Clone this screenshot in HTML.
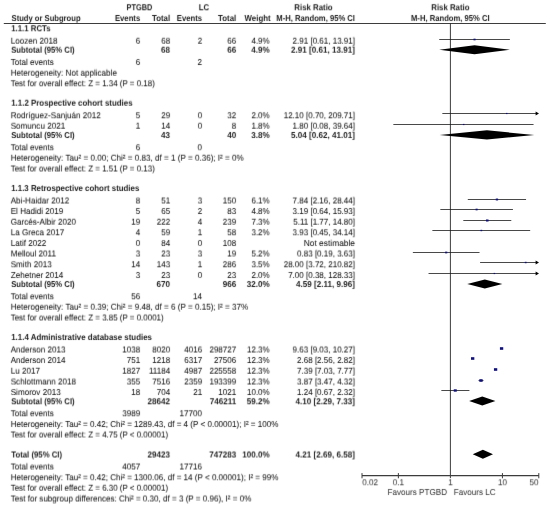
<!DOCTYPE html>
<html><head><meta charset="utf-8"><title>Forest plot</title>
<style>
html,body{margin:0;padding:0;background:#fff;}
svg{display:block;font-family:"Liberation Sans",Arial,sans-serif;font-size:8.6px;text-rendering:geometricPrecision;}
text{stroke:#000;stroke-width:0.05px;fill:#161616;}
.b{font-weight:bold;stroke-width:0;font-size:8.6px;fill:#1e1e1e;}
</style></head><body>
<svg width="550" height="509" viewBox="0 0 550 509">
<rect width="550" height="509" fill="#fff"/>
<line x1="3.8" y1="23.5" x2="545.8" y2="23.5" stroke="#1a1a1a" stroke-width="0.85"/>
<line x1="450.4" y1="23.5" x2="450.4" y2="478.1" stroke="#1a1a1a" stroke-width="0.85"/>
<line x1="362.00" y1="475.6" x2="538.80" y2="475.6" stroke="#3c3c3c" stroke-width="1.2"/>
<line x1="362.00" y1="473.1" x2="362.00" y2="478.3" stroke="#3c3c3c" stroke-width="1.0"/>
<line x1="398.37" y1="473.1" x2="398.37" y2="478.3" stroke="#3c3c3c" stroke-width="1.0"/>
<line x1="502.43" y1="473.1" x2="502.43" y2="478.3" stroke="#3c3c3c" stroke-width="1.0"/>
<line x1="538.80" y1="473.1" x2="538.80" y2="478.3" stroke="#3c3c3c" stroke-width="1.0"/>
<line x1="439.23" y1="39.50" x2="509.89" y2="39.50" stroke="#1a1a1a" stroke-width="0.8"/>
<rect x="473.49" y="38.67" width="2.09" height="1.66" fill="#10107c"/>
<polygon points="439.23,49.74 474.54,45.19 509.89,49.74 474.54,54.29" fill="#000"/>
<line x1="442.34" y1="113.50" x2="537.00" y2="113.50" stroke="#1a1a1a" stroke-width="0.8"/>
<polygon points="539.00,113.50 535.60,111.40 535.60,115.60" fill="#000"/>
<rect x="506.00" y="112.91" width="1.47" height="1.17" fill="#10107c"/>
<line x1="393.33" y1="124.50" x2="533.55" y2="124.50" stroke="#1a1a1a" stroke-width="0.8"/>
<rect x="462.94" y="123.91" width="1.47" height="1.17" fill="#10107c"/>
<polygon points="439.60,134.91 486.95,130.36 534.32,134.91 486.95,139.46" fill="#000"/>
<line x1="467.80" y1="199.50" x2="526.05" y2="199.50" stroke="#1a1a1a" stroke-width="0.8"/>
<rect x="495.77" y="198.57" width="2.33" height="1.86" fill="#10107c"/>
<line x1="440.32" y1="209.50" x2="512.95" y2="209.50" stroke="#1a1a1a" stroke-width="0.8"/>
<rect x="475.58" y="208.68" width="2.07" height="1.65" fill="#10107c"/>
<line x1="463.30" y1="220.50" x2="511.29" y2="220.50" stroke="#1a1a1a" stroke-width="0.8"/>
<rect x="485.98" y="219.48" width="2.55" height="2.03" fill="#10107c"/>
<line x1="432.36" y1="230.50" x2="530.18" y2="230.50" stroke="#1a1a1a" stroke-width="0.8"/>
<rect x="480.48" y="229.83" width="1.69" height="1.35" fill="#10107c"/>
<line x1="412.87" y1="252.50" x2="479.53" y2="252.50" stroke="#1a1a1a" stroke-width="0.8"/>
<rect x="445.11" y="251.64" width="2.15" height="1.71" fill="#10107c"/>
<line x1="480.09" y1="262.50" x2="537.00" y2="262.50" stroke="#1a1a1a" stroke-width="0.8"/>
<polygon points="539.00,262.50 535.60,260.40 535.60,264.60" fill="#000"/>
<rect x="524.81" y="261.80" width="1.77" height="1.41" fill="#10107c"/>
<line x1="428.54" y1="273.50" x2="537.00" y2="273.50" stroke="#1a1a1a" stroke-width="0.8"/>
<polygon points="539.00,273.50 535.60,271.40 535.60,275.60" fill="#000"/>
<rect x="493.63" y="272.91" width="1.47" height="1.17" fill="#10107c"/>
<polygon points="467.27,283.96 484.83,279.41 502.34,283.96 484.83,288.51" fill="#000"/>
<line x1="500.12" y1="348.50" x2="503.03" y2="348.50" stroke="#1a1a1a" stroke-width="0.8"/>
<rect x="499.92" y="347.18" width="3.31" height="2.64" fill="#10107c"/>
<line x1="471.64" y1="358.50" x2="473.83" y2="358.50" stroke="#1a1a1a" stroke-width="0.8"/>
<rect x="471.02" y="357.18" width="3.31" height="2.64" fill="#10107c"/>
<line x1="494.47" y1="369.50" x2="496.73" y2="369.50" stroke="#1a1a1a" stroke-width="0.8"/>
<rect x="493.94" y="368.18" width="3.31" height="2.64" fill="#10107c"/>
<line x1="478.51" y1="380.50" x2="483.46" y2="380.50" stroke="#1a1a1a" stroke-width="0.8"/>
<rect x="479.32" y="379.18" width="3.31" height="2.64" fill="#10107c"/>
<line x1="441.35" y1="390.50" x2="469.42" y2="390.50" stroke="#1a1a1a" stroke-width="0.8"/>
<rect x="453.77" y="389.31" width="2.99" height="2.38" fill="#10107c"/>
<polygon points="469.12,401.07 482.28,396.52 495.41,401.07 482.28,405.62" fill="#000"/>
<polygon points="472.76,454.31 482.88,449.76 492.97,454.31 482.88,458.86" fill="#000"/>
<defs><filter id="f0" filterUnits="userSpaceOnUse" x="0" y="0" width="550" height="509" color-interpolation-filters="sRGB"><feConvolveMatrix order="3" kernelMatrix="0.0049 0.0602 0.0049 0.0602 0.7396 0.0602 0.0049 0.0602 0.0049" edgeMode="none" preserveAlpha="false"/></filter><filter id="f1" filterUnits="userSpaceOnUse" x="0" y="0" width="550" height="509" color-interpolation-filters="sRGB"><feConvolveMatrix order="3" kernelMatrix="0.0037 0.0460 0.0037 0.0472 0.5799 0.0472 0.0191 0.2341 0.0191" edgeMode="none" preserveAlpha="false"/></filter><filter id="f2" filterUnits="userSpaceOnUse" x="0" y="0" width="550" height="509" color-interpolation-filters="sRGB"><feConvolveMatrix order="3" kernelMatrix="0.0025 0.0312 0.0025 0.0337 0.4144 0.0337 0.0337 0.4144 0.0337" edgeMode="none" preserveAlpha="false"/></filter><filter id="f3" filterUnits="userSpaceOnUse" x="0" y="0" width="550" height="509" color-interpolation-filters="sRGB"><feConvolveMatrix order="3" kernelMatrix="0.0013 0.0159 0.0013 0.0198 0.2428 0.0198 0.0489 0.6013 0.0489" edgeMode="none" preserveAlpha="false"/></filter></defs>
<g filter="url(#f0)">
<text transform="translate(11.55 21) scale(0.9116 1)" class="b" textLength="75.69" lengthAdjust="spacingAndGlyphs">Study or Subgroup</text>
<text transform="translate(140.20 21) scale(0.9116 1)" text-anchor="end" class="b" textLength="27.75" lengthAdjust="spacingAndGlyphs">Events</text>
<text transform="translate(170.10 21) scale(0.9116 1)" text-anchor="end" class="b">Total</text>
<text transform="translate(202.10 21) scale(0.9116 1)" text-anchor="end" class="b" textLength="27.75" lengthAdjust="spacingAndGlyphs">Events</text>
<text transform="translate(236.20 21) scale(0.9116 1)" text-anchor="end" class="b">Total</text>
<text transform="translate(270.60 21) scale(0.9116 1)" text-anchor="end" class="b" textLength="28.52" lengthAdjust="spacingAndGlyphs">Weight</text>
<text transform="translate(355.00 21) scale(0.9116 1)" text-anchor="end" class="b" textLength="86.33" lengthAdjust="spacingAndGlyphs">M-H, Random, 95% CI</text>
<text transform="translate(450.30 21) scale(0.9116 1)" text-anchor="middle" class="b" textLength="86.33" lengthAdjust="spacingAndGlyphs">M-H, Random, 95% CI</text>
<text transform="translate(10.70 65) scale(0.9419 1)">Total events</text>
<text transform="translate(140.20 65) scale(0.9419 1)" text-anchor="end">6</text>
<text transform="translate(202.10 65) scale(0.9419 1)" text-anchor="end">2</text>
<text transform="translate(11.20 138) scale(0.9116 1)" class="b" textLength="69.55" lengthAdjust="spacingAndGlyphs">Subtotal (95% CI)</text>
<text transform="translate(170.10 138) scale(0.9419 1)" text-anchor="end" class="b">43</text>
<text transform="translate(236.20 138) scale(0.9419 1)" text-anchor="end" class="b">40</text>
<text transform="translate(269.70 138) scale(0.9419 1)" text-anchor="end" class="b">3.8%</text>
<text transform="translate(355.00 138) scale(0.9419 1)" text-anchor="end" class="b">5.04 [0.62, 41.01]</text>
<text transform="translate(11.20 191) scale(0.9116 1)" class="b" textLength="140.52" lengthAdjust="spacingAndGlyphs">1.1.3 Retrospective cohort studies</text>
<text transform="translate(10.70 214) scale(0.9419 1)">El Hadidi 2019</text>
<text transform="translate(140.20 214) scale(0.9326 1)" text-anchor="end">5</text>
<text transform="translate(170.10 214) scale(0.9326 1)" text-anchor="end">65</text>
<text transform="translate(202.10 214) scale(0.9326 1)" text-anchor="end">2</text>
<text transform="translate(236.20 214) scale(0.9326 1)" text-anchor="end">83</text>
<text transform="translate(269.70 214) scale(0.9326 1)" text-anchor="end">4.8%</text>
<text transform="translate(355.00 214) scale(0.9326 1)" text-anchor="end">3.19 [0.64, 15.93]</text>
<text transform="translate(10.70 246) scale(0.9419 1)">Latif 2022</text>
<text transform="translate(140.20 246) scale(0.9326 1)" text-anchor="end">0</text>
<text transform="translate(170.10 246) scale(0.9326 1)" text-anchor="end">84</text>
<text transform="translate(202.10 246) scale(0.9326 1)" text-anchor="end">0</text>
<text transform="translate(236.20 246) scale(0.9326 1)" text-anchor="end">108</text>
<text transform="translate(355.00 246) scale(0.9326 1)" text-anchor="end" textLength="55.01" lengthAdjust="spacingAndGlyphs">Not estimable</text>
<text transform="translate(10.70 278) scale(0.9419 1)">Zehetner 2014</text>
<text transform="translate(140.20 278) scale(0.9326 1)" text-anchor="end">3</text>
<text transform="translate(170.10 278) scale(0.9326 1)" text-anchor="end">23</text>
<text transform="translate(202.10 278) scale(0.9326 1)" text-anchor="end">0</text>
<text transform="translate(236.20 278) scale(0.9326 1)" text-anchor="end">23</text>
<text transform="translate(269.70 278) scale(0.9326 1)" text-anchor="end">2.0%</text>
<text transform="translate(355.00 278) scale(0.9326 1)" text-anchor="end">7.00 [0.38, 128.33]</text>
<text transform="translate(11.20 287) scale(0.9116 1)" class="b" textLength="69.55" lengthAdjust="spacingAndGlyphs">Subtotal (95% CI)</text>
<text transform="translate(170.10 287) scale(0.9419 1)" text-anchor="end" class="b">670</text>
<text transform="translate(236.20 287) scale(0.9419 1)" text-anchor="end" class="b">966</text>
<text transform="translate(269.70 287) scale(0.9419 1)" text-anchor="end" class="b">32.0%</text>
<text transform="translate(355.00 287) scale(0.9419 1)" text-anchor="end" class="b">4.59 [2.11, 9.96]</text>
<text transform="translate(11.20 340) scale(0.9116 1)" class="b" textLength="154.45" lengthAdjust="spacingAndGlyphs">1.1.4 Administrative database studies</text>
<text transform="translate(10.70 363) scale(0.9419 1)">Anderson 2014</text>
<text transform="translate(140.20 363) scale(0.9326 1)" text-anchor="end">751</text>
<text transform="translate(170.10 363) scale(0.9326 1)" text-anchor="end">1218</text>
<text transform="translate(202.10 363) scale(0.9326 1)" text-anchor="end">6317</text>
<text transform="translate(236.20 363) scale(0.9326 1)" text-anchor="end">27506</text>
<text transform="translate(269.70 363) scale(0.9326 1)" text-anchor="end">12.3%</text>
<text transform="translate(355.00 363) scale(0.9326 1)" text-anchor="end">2.68 [2.56, 2.82]</text>
<text transform="translate(10.70 395) scale(0.9419 1)">Simorov 2013</text>
<text transform="translate(140.20 395) scale(0.9326 1)" text-anchor="end">18</text>
<text transform="translate(170.10 395) scale(0.9326 1)" text-anchor="end">704</text>
<text transform="translate(202.10 395) scale(0.9326 1)" text-anchor="end">21</text>
<text transform="translate(236.20 395) scale(0.9326 1)" text-anchor="end">1021</text>
<text transform="translate(269.70 395) scale(0.9326 1)" text-anchor="end">10.0%</text>
<text transform="translate(355.00 395) scale(0.9326 1)" text-anchor="end">1.24 [0.67, 2.32]</text>
<text transform="translate(10.70 427) scale(0.9419 1)" textLength="284.21" lengthAdjust="spacingAndGlyphs">Heterogeneity: Tau² = 0.42; Chi² = 1289.43, df = 4 (P &lt; 0.00001); I² = 100%</text>
<text transform="translate(447.00 495) scale(0.9419 1)" text-anchor="end" style="fill:#3a3a3a;stroke:#3a3a3a">Favours PTGBD</text>
<text transform="translate(453.80 495) scale(0.9419 1)" style="fill:#3a3a3a;stroke:#3a3a3a">Favours LC</text>
</g>
<g filter="url(#f1)">
<text transform="translate(139.50 10) scale(0.9116 1)" text-anchor="middle" class="b" textLength="28.30" lengthAdjust="spacingAndGlyphs">PTGBD</text>
<text transform="translate(204.00 10) scale(0.9116 1)" text-anchor="middle" class="b">LC</text>
<text transform="translate(313.50 10) scale(0.9116 1)" text-anchor="middle" class="b">Risk Ratio</text>
<text transform="translate(450.40 10) scale(0.9116 1)" text-anchor="middle" class="b">Risk Ratio</text>
<text transform="translate(11.20 31) scale(0.9116 1)" class="b">1.1.1 RCTs</text>
<text transform="translate(10.70 86) scale(0.9244 1)">Test for overall effect: Z = 1.34 (P = 0.18)</text>
<text transform="translate(10.70 118) scale(0.9419 1)">Rodríguez-Sanjuán 2012</text>
<text transform="translate(140.20 118) scale(0.9326 1)" text-anchor="end">5</text>
<text transform="translate(170.10 118) scale(0.9326 1)" text-anchor="end">29</text>
<text transform="translate(202.10 118) scale(0.9326 1)" text-anchor="end">0</text>
<text transform="translate(236.20 118) scale(0.9326 1)" text-anchor="end">32</text>
<text transform="translate(269.70 118) scale(0.9326 1)" text-anchor="end">2.0%</text>
<text transform="translate(355.00 118) scale(0.9326 1)" text-anchor="end">12.10 [0.70, 209.71]</text>
<text transform="translate(10.70 150) scale(0.9419 1)">Total events</text>
<text transform="translate(140.20 150) scale(0.9419 1)" text-anchor="end">6</text>
<text transform="translate(202.10 150) scale(0.9419 1)" text-anchor="end">0</text>
<text transform="translate(10.70 235) scale(0.9419 1)">La Greca 2017</text>
<text transform="translate(140.20 235) scale(0.9326 1)" text-anchor="end">4</text>
<text transform="translate(170.10 235) scale(0.9326 1)" text-anchor="end">59</text>
<text transform="translate(202.10 235) scale(0.9326 1)" text-anchor="end">1</text>
<text transform="translate(236.20 235) scale(0.9326 1)" text-anchor="end">58</text>
<text transform="translate(269.70 235) scale(0.9326 1)" text-anchor="end">3.2%</text>
<text transform="translate(355.00 235) scale(0.9326 1)" text-anchor="end">3.93 [0.45, 34.14]</text>
<text transform="translate(10.70 267) scale(0.9419 1)">Smith 2013</text>
<text transform="translate(140.20 267) scale(0.9326 1)" text-anchor="end">14</text>
<text transform="translate(170.10 267) scale(0.9326 1)" text-anchor="end">143</text>
<text transform="translate(202.10 267) scale(0.9326 1)" text-anchor="end">1</text>
<text transform="translate(236.20 267) scale(0.9326 1)" text-anchor="end">286</text>
<text transform="translate(269.70 267) scale(0.9326 1)" text-anchor="end">3.5%</text>
<text transform="translate(355.00 267) scale(0.9326 1)" text-anchor="end">28.00 [3.72, 210.82]</text>
<text transform="translate(10.70 299) scale(0.9419 1)">Total events</text>
<text transform="translate(140.20 299) scale(0.9419 1)" text-anchor="end">56</text>
<text transform="translate(202.10 299) scale(0.9419 1)" text-anchor="end">14</text>
<text transform="translate(11.20 404) scale(0.9116 1)" class="b" textLength="69.55" lengthAdjust="spacingAndGlyphs">Subtotal (95% CI)</text>
<text transform="translate(170.10 404) scale(0.9419 1)" text-anchor="end" class="b">28642</text>
<text transform="translate(236.20 404) scale(0.9419 1)" text-anchor="end" class="b">746211</text>
<text transform="translate(269.70 404) scale(0.9419 1)" text-anchor="end" class="b">59.2%</text>
<text transform="translate(355.00 404) scale(0.9419 1)" text-anchor="end" class="b">4.10 [2.29, 7.33]</text>
<text transform="translate(10.70 416) scale(0.9419 1)">Total events</text>
<text transform="translate(140.20 416) scale(0.9419 1)" text-anchor="end">3989</text>
<text transform="translate(202.10 416) scale(0.9419 1)" text-anchor="end">17700</text>
<text transform="translate(10.70 480) scale(0.9419 1)" textLength="284.21" lengthAdjust="spacingAndGlyphs">Heterogeneity: Tau² = 0.42; Chi² = 1300.06, df = 14 (P &lt; 0.00001); I² = 99%</text>
<text transform="translate(362.20 485) scale(0.9419 1)" style="fill:#3a3a3a;stroke:#3a3a3a">0.02</text>
<text transform="translate(398.37 485) scale(0.9419 1)" text-anchor="middle" style="fill:#3a3a3a;stroke:#3a3a3a">0.1</text>
<text transform="translate(450.40 485) scale(0.9419 1)" text-anchor="middle" style="fill:#3a3a3a;stroke:#3a3a3a">1</text>
<text transform="translate(502.43 485) scale(0.9419 1)" text-anchor="middle" style="fill:#3a3a3a;stroke:#3a3a3a">10</text>
<text transform="translate(538.40 485) scale(0.9419 1)" text-anchor="end" style="fill:#3a3a3a;stroke:#3a3a3a">50</text>
</g>
<g filter="url(#f2)">
<text transform="translate(10.70 171) scale(0.9244 1)">Test for overall effect: Z = 1.51 (P = 0.13)</text>
<text transform="translate(10.70 203) scale(0.9419 1)">Abi-Haidar 2012</text>
<text transform="translate(140.20 203) scale(0.9326 1)" text-anchor="end">8</text>
<text transform="translate(170.10 203) scale(0.9326 1)" text-anchor="end">51</text>
<text transform="translate(202.10 203) scale(0.9326 1)" text-anchor="end">3</text>
<text transform="translate(236.20 203) scale(0.9326 1)" text-anchor="end">150</text>
<text transform="translate(269.70 203) scale(0.9326 1)" text-anchor="end">6.1%</text>
<text transform="translate(355.00 203) scale(0.9326 1)" text-anchor="end">7.84 [2.16, 28.44]</text>
<text transform="translate(10.70 256) scale(0.9419 1)">Melloul 2011</text>
<text transform="translate(140.20 256) scale(0.9326 1)" text-anchor="end">3</text>
<text transform="translate(170.10 256) scale(0.9326 1)" text-anchor="end">23</text>
<text transform="translate(202.10 256) scale(0.9326 1)" text-anchor="end">3</text>
<text transform="translate(236.20 256) scale(0.9326 1)" text-anchor="end">19</text>
<text transform="translate(269.70 256) scale(0.9326 1)" text-anchor="end">5.2%</text>
<text transform="translate(355.00 256) scale(0.9326 1)" text-anchor="end">0.83 [0.19, 3.63]</text>
<text transform="translate(10.70 320) scale(0.9244 1)">Test for overall effect: Z = 3.85 (P = 0.0001)</text>
<text transform="translate(10.70 352) scale(0.9419 1)">Anderson 2013</text>
<text transform="translate(140.20 352) scale(0.9326 1)" text-anchor="end">1038</text>
<text transform="translate(170.10 352) scale(0.9326 1)" text-anchor="end">8020</text>
<text transform="translate(202.10 352) scale(0.9326 1)" text-anchor="end">4016</text>
<text transform="translate(236.20 352) scale(0.9326 1)" text-anchor="end">298727</text>
<text transform="translate(269.70 352) scale(0.9326 1)" text-anchor="end">12.3%</text>
<text transform="translate(355.00 352) scale(0.9326 1)" text-anchor="end">9.63 [9.03, 10.27]</text>
<text transform="translate(10.70 384) scale(0.9419 1)">Schlottmann 2018</text>
<text transform="translate(140.20 384) scale(0.9326 1)" text-anchor="end">355</text>
<text transform="translate(170.10 384) scale(0.9326 1)" text-anchor="end">7516</text>
<text transform="translate(202.10 384) scale(0.9326 1)" text-anchor="end">2359</text>
<text transform="translate(236.20 384) scale(0.9326 1)" text-anchor="end">193399</text>
<text transform="translate(269.70 384) scale(0.9326 1)" text-anchor="end">12.3%</text>
<text transform="translate(355.00 384) scale(0.9326 1)" text-anchor="end">3.87 [3.47, 4.32]</text>
<text transform="translate(10.70 437) scale(0.9244 1)">Test for overall effect: Z = 4.75 (P &lt; 0.00001)</text>
<text transform="translate(11.20 457) scale(0.9116 1)" class="b" textLength="55.84" lengthAdjust="spacingAndGlyphs">Total (95% CI)</text>
<text transform="translate(170.10 457) scale(0.9419 1)" text-anchor="end" class="b">29423</text>
<text transform="translate(236.20 457) scale(0.9419 1)" text-anchor="end" class="b">747283</text>
<text transform="translate(269.70 457) scale(0.9419 1)" text-anchor="end" class="b">100.0%</text>
<text transform="translate(355.00 457) scale(0.9419 1)" text-anchor="end" class="b">4.21 [2.69, 6.58]</text>
<text transform="translate(10.70 469) scale(0.9419 1)">Total events</text>
<text transform="translate(140.20 469) scale(0.9419 1)" text-anchor="end">4057</text>
<text transform="translate(202.10 469) scale(0.9419 1)" text-anchor="end">17716</text>
<text transform="translate(10.70 501) scale(0.9419 1)" textLength="255.44" lengthAdjust="spacingAndGlyphs">Test for subgroup differences: Chi² = 0.30, df = 3 (P = 0.96), I² = 0%</text>
</g>
<g filter="url(#f3)">
<text transform="translate(10.70 43) scale(0.9419 1)">Loozen 2018</text>
<text transform="translate(140.20 43) scale(0.9326 1)" text-anchor="end">6</text>
<text transform="translate(170.10 43) scale(0.9326 1)" text-anchor="end">68</text>
<text transform="translate(202.10 43) scale(0.9326 1)" text-anchor="end">2</text>
<text transform="translate(236.20 43) scale(0.9326 1)" text-anchor="end">66</text>
<text transform="translate(269.70 43) scale(0.9326 1)" text-anchor="end">4.9%</text>
<text transform="translate(355.00 43) scale(0.9326 1)" text-anchor="end">2.91 [0.61, 13.91]</text>
<text transform="translate(11.20 52) scale(0.9116 1)" class="b" textLength="69.55" lengthAdjust="spacingAndGlyphs">Subtotal (95% CI)</text>
<text transform="translate(170.10 52) scale(0.9419 1)" text-anchor="end" class="b">68</text>
<text transform="translate(236.20 52) scale(0.9419 1)" text-anchor="end" class="b">66</text>
<text transform="translate(269.70 52) scale(0.9419 1)" text-anchor="end" class="b">4.9%</text>
<text transform="translate(355.00 52) scale(0.9419 1)" text-anchor="end" class="b">2.91 [0.61, 13.91]</text>
<text transform="translate(10.70 75) scale(0.9419 1)">Heterogeneity: Not applicable</text>
<text transform="translate(11.20 105) scale(0.9116 1)" class="b" textLength="133.17" lengthAdjust="spacingAndGlyphs">1.1.2 Prospective cohort studies</text>
<text transform="translate(10.70 128) scale(0.9419 1)">Somuncu 2021</text>
<text transform="translate(140.20 128) scale(0.9326 1)" text-anchor="end">1</text>
<text transform="translate(170.10 128) scale(0.9326 1)" text-anchor="end">14</text>
<text transform="translate(202.10 128) scale(0.9326 1)" text-anchor="end">0</text>
<text transform="translate(236.20 128) scale(0.9326 1)" text-anchor="end">8</text>
<text transform="translate(269.70 128) scale(0.9326 1)" text-anchor="end">1.8%</text>
<text transform="translate(355.00 128) scale(0.9326 1)" text-anchor="end">1.80 [0.08, 39.64]</text>
<text transform="translate(10.70 160) scale(0.9419 1)">Heterogeneity: Tau² = 0.00; Chi² = 0.83, df = 1 (P = 0.36); I² = 0%</text>
<text transform="translate(10.70 224) scale(0.9419 1)">Garcés-Albir 2020</text>
<text transform="translate(140.20 224) scale(0.9326 1)" text-anchor="end">19</text>
<text transform="translate(170.10 224) scale(0.9326 1)" text-anchor="end">222</text>
<text transform="translate(202.10 224) scale(0.9326 1)" text-anchor="end">4</text>
<text transform="translate(236.20 224) scale(0.9326 1)" text-anchor="end">239</text>
<text transform="translate(269.70 224) scale(0.9326 1)" text-anchor="end">7.3%</text>
<text transform="translate(355.00 224) scale(0.9326 1)" text-anchor="end">5.11 [1.77, 14.80]</text>
<text transform="translate(10.70 309) scale(0.9419 1)">Heterogeneity: Tau² = 0.39; Chi² = 9.48, df = 6 (P = 0.15); I² = 37%</text>
<text transform="translate(10.70 373) scale(0.9419 1)">Lu 2017</text>
<text transform="translate(140.20 373) scale(0.9326 1)" text-anchor="end">1827</text>
<text transform="translate(170.10 373) scale(0.9326 1)" text-anchor="end">11184</text>
<text transform="translate(202.10 373) scale(0.9326 1)" text-anchor="end">4987</text>
<text transform="translate(236.20 373) scale(0.9326 1)" text-anchor="end">225558</text>
<text transform="translate(269.70 373) scale(0.9326 1)" text-anchor="end">12.3%</text>
<text transform="translate(355.00 373) scale(0.9326 1)" text-anchor="end">7.39 [7.03, 7.77]</text>
<text transform="translate(10.70 490) scale(0.9244 1)">Test for overall effect: Z = 6.30 (P &lt; 0.00001)</text>
</g>
</svg>
</body></html>
